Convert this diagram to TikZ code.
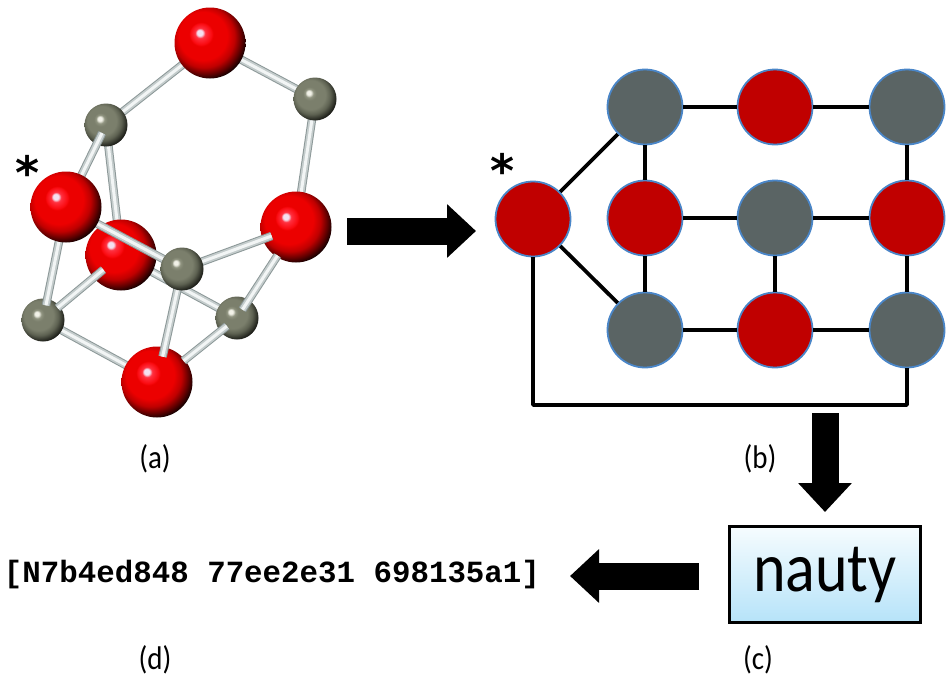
\documentclass[tikz,border=0pt]{standalone}
\usepackage{graphicx}
\usepackage{fontspec}
\setmainfont{Carlito}
\newfontfamily\monob{Liberation Mono}[BoldFont={Liberation Mono Bold}]
\newfontfamily\starfont{DejaVu Sans Bold}
\usetikzlibrary{arrows.meta}
\definecolor{gfill}{HTML}{5A6464}
\definecolor{rfill}{HTML}{C00000}
\definecolor{ringb}{HTML}{4A86C8}
\definecolor{bondo}{HTML}{8C9898}
\definecolor{bondm}{HTML}{C4CCCC}
\definecolor{bondi}{HTML}{F2F5F5}
\definecolor{boxt}{HTML}{F6FCFE}
\definecolor{boxb}{HTML}{B6E3F9}
\definecolor{ra}{HTML}{F4E0F0}
\definecolor{rb}{HTML}{FF3040}
\definecolor{rc}{HTML}{FA0A10}
\definecolor{rd}{HTML}{EC0000}
\definecolor{re}{HTML}{C00000}
\definecolor{rf}{HTML}{660000}
\definecolor{rg}{HTML}{140000}
\pgfdeclareradialshading{redball}{\pgfpoint{-7.5bp}{7.5bp}}{
 color(0bp)=(ra);color(2bp)=(ra);color(3.6bp)=(rb);color(7.5bp)=(rc);color(8.5bp)=(rd);
 color(17bp)=(rd);color(21.5bp)=(re);color(25.5bp)=(rf);color(29bp)=(rg);color(31.5bp)=(black);color(50bp)=(black)}
\definecolor{ca}{HTML}{F2F2E8}
\definecolor{cb}{HTML}{8E927E}
\definecolor{cc}{HTML}{7B7F6C}
\definecolor{cd}{HTML}{5E6252}
\definecolor{ce}{HTML}{2A2C24}
\pgfdeclareradialshading{grayball}{\pgfpoint{-7.5bp}{7.5bp}}{
 color(0bp)=(ca);color(2.4bp)=(ca);color(5bp)=(cb);color(8bp)=(cc);
 color(17bp)=(cc);color(22bp)=(cd);color(27bp)=(ce);color(31bp)=(black);color(50bp)=(black)}
\tikzset{
 oatom/.style={circle,inner sep=0pt,minimum size=71pt,shading=redball},
 catom/.style={circle,inner sep=0pt,minimum size=43pt,shading=grayball},
 gv/.style={circle,inner sep=0pt,minimum size=75pt,draw=ringb,line width=1.8pt,fill=gfill},
 rv/.style={circle,inner sep=0pt,minimum size=75pt,draw=ringb,line width=1.8pt,fill=rfill},
 edgeline/.style={line width=3.8pt,black},
 bigarrow/.style={line width=27pt,-{Triangle[length=29pt,width=52pt]},black},
 lab/.style={font=\fontsize{29}{32}\selectfont,inner sep=0pt},
 starmark/.style={font=\starfont\fontsize{46}{48}\selectfont,inner sep=0pt}
}
% #1 options (shorten), #2 and #3 the coordinates of the two atoms
\newcommand{\bondline}[3][]{%
 \draw[line width=8.5pt,color=bondo,#1] (#2) -- (#3);
 \draw[line width=6.5pt,color=bondm,#1] (#2) -- (#3);
 \draw[line width=3pt,color=bondi,#1] (#2) -- (#3);}
\newcommand{\tallt}[1]{\scalebox{1}[1.13]{#1}}
\begin{document}
\begin{tikzpicture}[x=1pt,y=-1pt]
\useasboundingbox[fill=white] (0,0) rectangle (950,680);
% molecule positions
\coordinate (O1) at (210,43);
\coordinate (O2) at (66,207);
\coordinate (O3) at (121,255);
\coordinate (O4) at (296,227);
\coordinate (O5) at (157,382);
\coordinate (C1) at (106,125);
\coordinate (C2) at (315,99);
\coordinate (C3) at (182,269);
\coordinate (C4) at (43,320);
\coordinate (C5) at (237,318);
% back bonds
\bondline{C1}{O1}
\bondline{O1}{C2}
\bondline{C2}{O4}
\bondline{C1}{O3}
\bondline{C4}{O5}
\bondline{O3}{C5}
% back atoms
\node[oatom] (nO1) at (O1) {};
\node[oatom] (nO4) at (O4) {};
\node[oatom] (nO5) at (O5) {};
\node[oatom] (nO3) at (O3) {};
\node[catom] (nC1) at (C1) {};
\node[catom] (nC2) at (C2) {};
\node[catom] (nC4) at (C4) {};
\node[catom] (nC5) at (C5) {};
% front bonds
\bondline[shorten <=9pt]{C1}{O2}
\bondline[shorten >=15pt]{O2}{C4}
\bondline[shorten <=23pt,shorten >=19pt]{O3}{C4}
\bondline[shorten <=13pt,shorten >=34pt]{C5}{O5}
\bondline[shorten <=10pt,shorten >=34pt]{C5}{O4}
\bondline[shorten >=26pt]{C3}{O4}
\bondline[shorten >=26pt]{C3}{O5}
\bondline{O2}{C3}
\node[oatom] (nO2) at (O2) {};
\node[catom] (nC3) at (C3) {};
\node[starmark] (st1) at (28,172) {*};
% graph
\node[rv] (g0) at (533,219) {};
\node[gv] (g11) at (645,107) {};
\node[rv] (g12) at (775,107) {};
\node[gv] (g13) at (907,107) {};
\node[rv] (g21) at (645,218) {};
\node[gv] (g22) at (775,218) {};
\node[rv] (g23) at (907,218) {};
\node[gv] (g31) at (645,330) {};
\node[rv] (g32) at (775,330) {};
\node[gv] (g33) at (907,330) {};
\draw[edgeline] (g0) -- (g11);
\draw[edgeline] (g0) -- (g31);
\draw[edgeline] (g11) -- (g12);
\draw[edgeline] (g12) -- (g13);
\draw[edgeline] (g21) -- (g22);
\draw[edgeline] (g22) -- (g23);
\draw[edgeline] (g31) -- (g32);
\draw[edgeline] (g32) -- (g33);
\draw[edgeline] (g11) -- (g21);
\draw[edgeline] (g21) -- (g31);
\draw[edgeline] (g13) -- (g23);
\draw[edgeline] (g23) -- (g33);
\draw[edgeline] (g22) -- (g32);
\draw[edgeline,line join=round] (g0.south) -- (533,405) -- (907,405) -- (g33.south);
\node[starmark] (st2) at (503,170) {*};
% big arrows
\coordinate (a1s) at (347,231);
\coordinate (a1e) at (476,231);
\coordinate (a2s) at (825,413);
\coordinate (a2e) at (825,512);
\coordinate (a3s) at (699,576);
\coordinate (a3e) at (570,576);
\draw[bigarrow] (a1s) -- (a1e);
\draw[bigarrow] (a2s) -- (a2e);
\draw[bigarrow] (a3s) -- (a3e);
% nauty box
\node[draw=black,line width=2.6pt,top color=boxt,bottom color=boxb,minimum width=191pt,minimum height=96pt,inner sep=0pt,font=\fontsize{62}{66}\selectfont] (nauty) at (825,574.5) {\tallt{nauty}};
\node[inner sep=0pt,font=\monob\bfseries\fontsize{30.8}{34}\selectfont] (code) at (272,575) {[N7b4ed848 77ee2e31 698135a1]};
\node[lab] (la) at (155,459) {\tallt{(a)}};
\node[lab] (lb) at (760,459) {\tallt{(b)}};
\node[lab] (lc) at (758,660) {\tallt{(c)}};
\node[lab] (ld) at (155,660) {\tallt{(d)}};
\end{tikzpicture}
\end{document}
